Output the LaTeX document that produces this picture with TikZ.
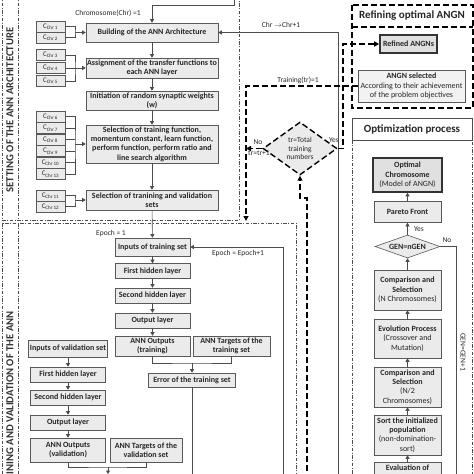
\documentclass[tikz,border=0pt]{standalone}
\usepackage{fontspec}
\setmainfont{Carlito}
\usetikzlibrary{arrows.meta}
\usetikzlibrary{shapes.geometric}

\tikzset{
  flowbox/.style={draw=black!65, fill=black!8, line width=0.6pt, align=center,
    inner sep=0.8pt, text=black!85, font=\bfseries\fontsize{8}{9.3}\selectfont},
  archbox/.style={flowbox, minimum width=132pt},
  layerbox/.style={flowbox, minimum width=75pt, minimum height=15pt},
  optbox/.style={flowbox, minimum width=67pt, minimum height=40pt},
  chrbox/.style={draw=black!65, fill=black!8, line width=0.6pt, minimum width=29pt,
    minimum height=11pt, inner sep=0pt, text=black!85, font=\fontsize{7}{8}\selectfont},
  boldbox/.style={flowbox, draw=black!80, line width=1.6pt, fill=black!12},
  edgetext/.style={inner sep=0.5pt, text=black!85, font=\fontsize{7.5}{8.5}\selectfont},
  headtext/.style={inner sep=0pt, text=black!85, font=\bfseries\fontsize{11}{12}\selectfont},
  bandtext/.style={inner sep=0pt, rotate=90, text=black!80, font=\bfseries\fontsize{10.7}{12}\selectfont},
  flow/.style={draw=black!70, line width=0.6pt, -{Triangle[length=3.5pt,width=4pt]}},
  link/.style={draw=black!70, line width=0.6pt},
  trflow/.style={draw=black, line width=1.4pt, dash pattern=on 6pt off 3pt},
  trtip/.style={-{Triangle[length=5pt,width=5pt]}},
  zone/.style={draw=black!70, line width=0.7pt, dash pattern=on 3.5pt off 1.5pt on 1pt off 1.5pt},
}

\begin{document}
\begin{tikzpicture}[x=1pt,y=-1pt]
\useasboundingbox (0,0) rectangle (474,474);

% regions
\draw[zone] (2,-5) rectangle (239,220);
\draw[zone] (18,-5) -- (18,220);
\draw[zone] (2,223) rectangle (296,480);
\draw[zone] (18,223) -- (18,480);
\draw[trflow, line width=1.5pt] (352,5) rectangle (473,108);
\draw[trflow, line width=1.5pt] (352,27) -- (473,27);
\draw[link] (352,118) rectangle (472,140);
\draw[zone] (352,140) rectangle (472,480);

\node[bandtext] (setlbl) at (10,110) {SETTING OF THE ANN ARCHITECTURE};
\node[bandtext, anchor=east] (trnlbl) at (10,311) {TRAINING AND VALIDATION OF THE ANN};

% architecture
\node[archbox, minimum height=19pt] (bld) at (152,32.5) {Building of the ANN Architecture};
\node[archbox, minimum height=20pt] (asg) at (152,68) {Assignment of the transfer functions to\\each ANN layer};
\node[archbox, minimum height=19pt] (ini) at (152,100.5) {Initiation of random synaptic weights\\(w)};
\node[archbox, minimum height=38pt] (sel) at (152,144) {Selection of training function,\\momentum constant, learn function,\\perform function, perform ratio and\\line search algorithm};
\node[archbox, minimum height=20pt] (sts) at (152,200) {Selection of tranining and validation\\sets};

% chromosome genes
\node[chrbox] (c1) at (50.5,26.5) {C\textsubscript{Chr 1}};
\node[chrbox] (c2) at (50.5,37.5) {C\textsubscript{Chr 2}};
\node[chrbox] (c3) at (50.5,55) {C\textsubscript{Chr 3}};
\node[chrbox] (c4) at (50.5,68) {C\textsubscript{Chr 4}};
\node[chrbox] (c5) at (50.5,81) {C\textsubscript{Chr 5}};
\node[chrbox] (c6) at (50.5,116.75) {C\textsubscript{Chr 6}};
\node[chrbox] (c7) at (50.5,128.25) {C\textsubscript{Chr 7}};
\node[chrbox] (c8) at (50.5,139.75) {C\textsubscript{Chr 8}};
\node[chrbox] (c9) at (50.5,151.25) {C\textsubscript{Chr 9}};
\node[chrbox] (c10) at (50.5,162.75) {C\textsubscript{Chr 10}};
\node[chrbox] (c13) at (50.5,174.25) {C\textsubscript{Chr 13}};
\node[chrbox] (c11) at (50.5,195.5) {C\textsubscript{Chr 11}};
\node[chrbox] (c12) at (50.5,206.5) {C\textsubscript{Chr 12}};

% training set
\node[layerbox, minimum height=18pt] (itr) at (152.5,247) {Inputs of training set};
\node[layerbox] (h1t) at (152.5,271) {First hidden layer};
\node[layerbox] (h2t) at (152.5,295.5) {Second hidden layer};
\node[layerbox] (olt) at (152.5,320.5) {Output layer};
\node[layerbox, minimum height=20pt] (aot) at (152.5,346) {ANN Outputs\\(training)};
\node[layerbox, minimum width=77pt, minimum height=20pt] (att) at (231.5,346) {ANN Targets of the\\training set};
\node[layerbox, minimum width=87pt, minimum height=14pt] (err) at (192,380) {Error of the training set};

% validation set
\node[layerbox, minimum width=79pt, minimum height=17pt] (ival) at (68,348.5) {Inputs of validation set};
\node[layerbox] (h1v) at (68,374.5) {First hidden layer};
\node[layerbox] (h2v) at (68,397.5) {Second hidden layer};
\node[layerbox] (olv) at (68,422.5) {Output layer};
\node[layerbox, minimum height=24pt] (aov) at (68,450) {ANN Outputs\\(validation)};
\node[layerbox, minimum width=72pt, minimum height=24pt] (atv) at (146,450) {ANN Targets of the\\validation set};

% refining
\node[headtext] (refttl) at (412,16) {Refining optimal ANGN};
\node[boldbox, minimum width=57pt, minimum height=18pt] (ref) at (408.5,44) {Refined ANGNs};
\node[flowbox, minimum width=107pt, minimum height=32pt, fill=black!5] (pick) at (411.5,86) {ANGN selected\\\textmd{According to their achievement}\\\textmd{of the problem objectives}};

% optimization
\node[headtext] (optttl) at (412,129) {Optimization process};
\node[boldbox, minimum width=69pt, minimum height=34pt] (best) at (407.5,175) {Optimal\\Chromosome\\\textmd{(Model of ANGN)}};
\node[flowbox, minimum width=67pt, minimum height=21pt] (par) at (407.5,212) {Pareto Front};
\node[flowbox, shape=diamond, aspect=2.8, minimum width=65pt, minimum height=23pt, inner sep=0pt] (gen) at (407.5,246.5) {GEN=nGEN};
\node[optbox] (cs1) at (407.5,290) {Comparison and\\Selection\\\textmd{(N Chromosomes)}};
\node[optbox, minimum height=39pt] (evo) at (407.5,338.5) {Evolution Process\\\textmd{(Crossover and}\\\textmd{Mutation)}};
\node[optbox] (cs2) at (407.5,387) {Comparison and\\Selection\\\textmd{(N/2}\\\textmd{Chromosomes)}};
\node[optbox] (srt) at (407.5,435) {Sort the initialized\\population\\\textmd{(non-domination-}\\\textmd{sort)}};
\node[flowbox, anchor=north, minimum width=67pt, inner ysep=3pt, text depth=20pt] (evl) at (407.5,462) {Evaluation of};

% training loop test
\node[flowbox, trflow, shape=diamond, aspect=1.4, minimum width=74pt, minimum height=53pt, inner sep=0pt,
  font=\fontsize{7.5}{8.5}\selectfont] (dia) at (300,148.5) {tr=Total\\training\\numbers};

% labels
\node[edgetext] (chrone) at (108,13) {Chromosome(Chr) =1};
\node[edgetext] (chrinc) at (281,25) {Chr $\rightarrow$Chr+1};
\node[edgetext] (trone) at (298,80) {Training(tr)=1};
\node[edgetext] (epone) at (111,233) {Epoch = 1};
\node[edgetext] (epinc) at (238,253) {Epoch = Epoch+1};
\node[edgetext] (nolbl) at (258,142) {No};
\node[edgetext] (trinc) at (259,153) {tr=tr+1};
\node[edgetext] (yeslbl) at (334,140) {Yes};
\node[edgetext] (genyes) at (419,229.5) {Yes};
\node[edgetext] (genno) at (447,240) {No};
\node[edgetext, rotate=-90] (geninc) at (463,352) {GEN=GEN+1};

% architecture flow
\coordinate (intop) at (234,-2);
\coordinate (inbend) at (234,5);
\draw[flow] (intop) -- (inbend) -| (bld.north);
\draw[flow] (bld) -- (asg);
\draw[flow] (asg) -- (ini);
\draw[flow] (ini) -- (sel);
\draw[flow] (sel) -- (sts);
\draw[flow] (sts) -- (itr);

% genes to steps
\coordinate (j1) at (75,32.5);
\draw[link] (c1.east) -| (j1) |- (c2.east);
\draw[flow] (j1) -- (bld.west);
\coordinate (j2) at (75,68);
\draw[link] (c3.east) -| (j2) |- (c5.east);
\draw[link] (c4.east) -- (j2);
\draw[flow] (j2) -- (asg.west);
\coordinate (j3) at (75,144);
\draw[link] (c6.east) -| (j3) |- (c13.east);
\draw[link] (c7.east) -- (c7.east -| j3);
\draw[link] (c8.east) -- (c8.east -| j3);
\draw[link] (c9.east) -- (c9.east -| j3);
\draw[link] (c10.east) -- (c10.east -| j3);
\draw[flow] (j3) -- (sel.west);
\coordinate (j4) at (75,200);
\draw[link] (c11.east) -| (j4) |- (c12.east);
\draw[flow] (j4) -- (sts.west);

% training flow
\draw[flow] (itr) -- (h1t);
\draw[flow] (h1t) -- (h2t);
\draw[flow] (h2t) -- (olt);
\draw[flow] (olt) -- (aot);
\coordinate (jt) at (192,363);
\draw[link] (aot.south) |- (jt) -| (att.south);
\draw[flow] (jt) -- (err.north);
\coordinate (errend) at (192,480);
\draw[link] (err.south) -- (errend);

% validation flow
\draw[flow] (ival) -- (h1v);
\draw[flow] (h1v) -- (h2v);
\draw[flow] (h2v) -- (olv);
\draw[flow] (olv) -- (aov);
\coordinate (jv) at (108,467);
\draw[link] (aov.south) |- (jv) -| (atv.south);
\coordinate (vend) at (108,474);
\draw[flow] (jv) -- (vend);

% loops
\coordinate (chrfoot) at (338,480);
\draw[flow] (chrfoot) |- (bld.east);
\coordinate (epfoot) at (283,480);
\draw[flow] (epfoot) |- (itr.east);

\coordinate (trdrop) at (246,221);
\draw[trflow, trtip] (pick.west) -| (trdrop);
\draw[trflow, trtip] (dia.west) -- (dia.west -| trdrop);
\coordinate (yesbend) at (343,44);
\draw[trflow, trtip] (dia.east) -| (yesbend) -- (ref.west);
\coordinate (trfoot) at (307,480);
\coordinate (trbend) at (307,198);
\draw[trflow, trtip] (trfoot) -- (trbend) -| (dia.south);

% optimization flow
\draw[flow] (evl) -- (srt);
\draw[flow] (srt) -- (cs2);
\draw[flow] (cs2) -- (evo);
\draw[flow] (evo) -- (cs1);
\draw[flow] (cs1) -- (gen);
\draw[flow] (gen) -- (par);
\draw[flow] (par) -- (best);
\coordinate (genfoot) at (456,480);
\draw[link] (gen.east) -| (genfoot);

\end{tikzpicture}
\end{document}
